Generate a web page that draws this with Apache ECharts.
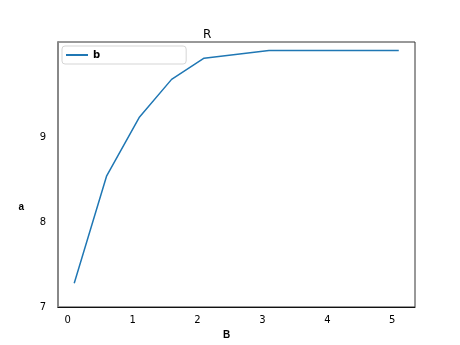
<!DOCTYPE html>
<html><head><meta charset="utf-8">
<script src="https://cdn.jsdelivr.net/npm/echarts@6/dist/echarts.min.js"></script>
<style>html,body{margin:0;padding:0;background:#fff}#c{width:460px;height:345px}</style>
</head><body><div id="c"></div>
<script>
const xValues = [0.1, 0.6, 1.1, 1.6, 2.1, 3.1, 5.1];
const yValues = [7.28, 8.545, 9.23, 9.68, 9.93, 10.02, 10.02];
const xTicks = [0, 1, 2, 3, 4, 5];
const yTicks = [7, 8, 9];
const titleText = 'R';
const seriesName = 'b';
const xName = 'B';
const yName = 'a';

const chart = echarts.init(document.getElementById('c'));
chart.setOption({
  animation: false,
  title: { text: titleText, left: 198, top: 24,
    textStyle: { fontSize: 12, fontWeight: 'normal', color: '#000', fontFamily: 'DejaVu Sans' } },
  legend: { left: 62, top: 46, itemWidth: 22, itemHeight: 2, itemGap: 4,
    borderColor: '#d5d5d5', borderWidth: 1, borderRadius: 3, padding: [4, 86, 4, 4],
    icon: 'rect',
    data: [seriesName],
    textStyle: { fontSize: 10, fontWeight: 'bold', color: '#000', fontFamily: 'DejaVu Sans' } },
  grid: { left: 58, right: 45, top: 42, bottom: 38, show: true, borderColor: '#333', borderWidth: 1 },
  xAxis: {
    type: 'value', min: -0.15, max: 5.35, interval: 1,
    name: xName, nameLocation: 'middle', nameGap: 22,
    nameTextStyle: { fontSize: 10, fontWeight: 'bold', color: '#000', padding: [0, 20, 0, 0] },
    axisLine: { show: true, onZero: false, lineStyle: { color: '#111' } },
    splitLine: { show: false },
    axisLabel: { fontSize: 10, color: '#000', fontFamily: 'DejaVu Sans', margin: 8,
      customValues: xTicks, formatter: v => String(v) },
    axisTick: { show: false, customValues: xTicks }
  },
  yAxis: {
    type: 'value', min: 7, max: 10.12,
    name: yName, nameLocation: 'middle', nameGap: 34, nameRotate: 0,
    nameTextStyle: { fontSize: 10, fontWeight: 'bold', color: '#000', verticalAlign: 'top', padding: [28, 0, 0, 0] },
    axisLine: { show: true, onZero: false, lineStyle: { color: '#888', width: 2 } },
    splitLine: { show: false },
    axisLabel: { fontSize: 10, color: '#000', fontFamily: 'DejaVu Sans', margin: 12,
      customValues: yTicks, formatter: v => String(v) },
    axisTick: { show: false, customValues: yTicks }
  },
  series: [{
    name: seriesName, type: 'line', data: xValues.map((x, i) => [x, yValues[i]]),
    showSymbol: false, symbol: 'none',
    lineStyle: { color: '#1f77b4', width: 1.5 }, itemStyle: { color: '#1f77b4' }
  }]
});
</script></body></html>
